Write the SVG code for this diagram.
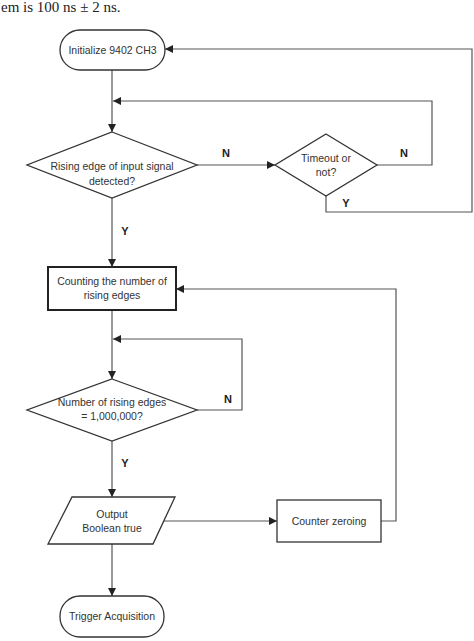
<svg xmlns="http://www.w3.org/2000/svg" width="474" height="641" viewBox="0 0 474 641">
<style>
.n{fill:#fff;stroke:#333;stroke-width:1.3}
.b{fill:#fff;stroke:#222;stroke-width:2}
.c{fill:none;stroke:#555;stroke-width:1.2}
.t{font-family:"Liberation Sans",Arial,sans-serif;font-size:10.5px;fill:#333;text-anchor:middle}
.l{font-family:"Liberation Sans",Arial,sans-serif;font-size:11px;font-weight:bold;fill:#222;text-anchor:middle}
</style>
<defs>
<marker id="a" viewBox="0 0 10 10" refX="10" refY="5" markerWidth="8" markerHeight="8" markerUnits="userSpaceOnUse" orient="auto">
<path d="M0,0 L10,5 L0,10 z" fill="#222"/>
</marker>
</defs>
<rect width="474" height="641" fill="#fff"/>
<text x="1" y="12" font-family="Liberation Serif,serif" font-size="15" fill="#222">em is 100 ns ± 2 ns.</text>
<g id="connectors">
<path class="c" d="M112,70 V132" marker-end="url(#a)"/>
<path class="c" d="M197,165 H275" marker-end="url(#a)"/>
<path class="c" d="M377,165 H432 V101 H113" marker-end="url(#a)"/>
<path class="c" d="M326,196 V212 H472 V49 H165" marker-end="url(#a)"/>
<path class="c" d="M112,198 V267" marker-end="url(#a)"/>
<path class="c" d="M112,310 V379" marker-end="url(#a)"/>
<path class="c" d="M197,410 H242 V339 H113" marker-end="url(#a)"/>
<path class="c" d="M112,441 V497" marker-end="url(#a)"/>
<path class="c" d="M164,521 H277" marker-end="url(#a)"/>
<path class="c" d="M381,521 H396 V289 H176" marker-end="url(#a)"/>
<path class="c" d="M112,544 V596" marker-end="url(#a)"/>
<text class="l" x="226" y="157">N</text>
<text class="l" x="404" y="157">N</text>
<text class="l" x="346" y="207">Y</text>
<text class="l" x="125" y="235">Y</text>
<text class="l" x="228" y="403">N</text>
<text class="l" x="125" y="467">Y</text>
</g>
<g id="start">
<rect class="n" x="60" y="30" width="105" height="40" rx="20"/>
<text class="t" x="112.5" y="53.5">Initialize 9402 CH3</text>
</g>
<g id="detect">
<polygon class="n" points="112,132 197,165 112,198 27,165"/>
<text class="t" x="112" y="170">Rising edge of input signal</text>
<text class="t" x="112" y="185">detected?</text>
</g>
<g id="timeout">
<polygon class="n" points="326,134 377,165 326,196 275,165"/>
<text class="t" x="326" y="162">Timeout or</text>
<text class="t" x="326" y="176">not?</text>
</g>
<g id="count">
<rect class="b" x="48" y="267" width="128" height="43"/>
<text class="t" x="112" y="285">Counting the number of</text>
<text class="t" x="112" y="299">rising edges</text>
</g>
<g id="check">
<polygon class="n" points="112,379 197,410 112,441 27,410"/>
<text class="t" x="112" y="406">Number of rising edges</text>
<text class="t" x="112" y="420">= 1,000,000?</text>
</g>
<g id="output">
<polygon class="n" points="72,497 175,497 153,544 48,544"/>
<text class="t" x="112" y="518">Output</text>
<text class="t" x="112" y="532">Boolean true</text>
</g>
<g id="zero">
<rect class="n" x="277" y="500" width="104" height="42"/>
<text class="t" x="329" y="524.5">Counter zeroing</text>
</g>
<g id="end">
<rect class="n" x="60" y="596" width="104" height="41" rx="20"/>
<text class="t" x="112" y="620">Trigger Acquisition</text>
</g>
</svg>
